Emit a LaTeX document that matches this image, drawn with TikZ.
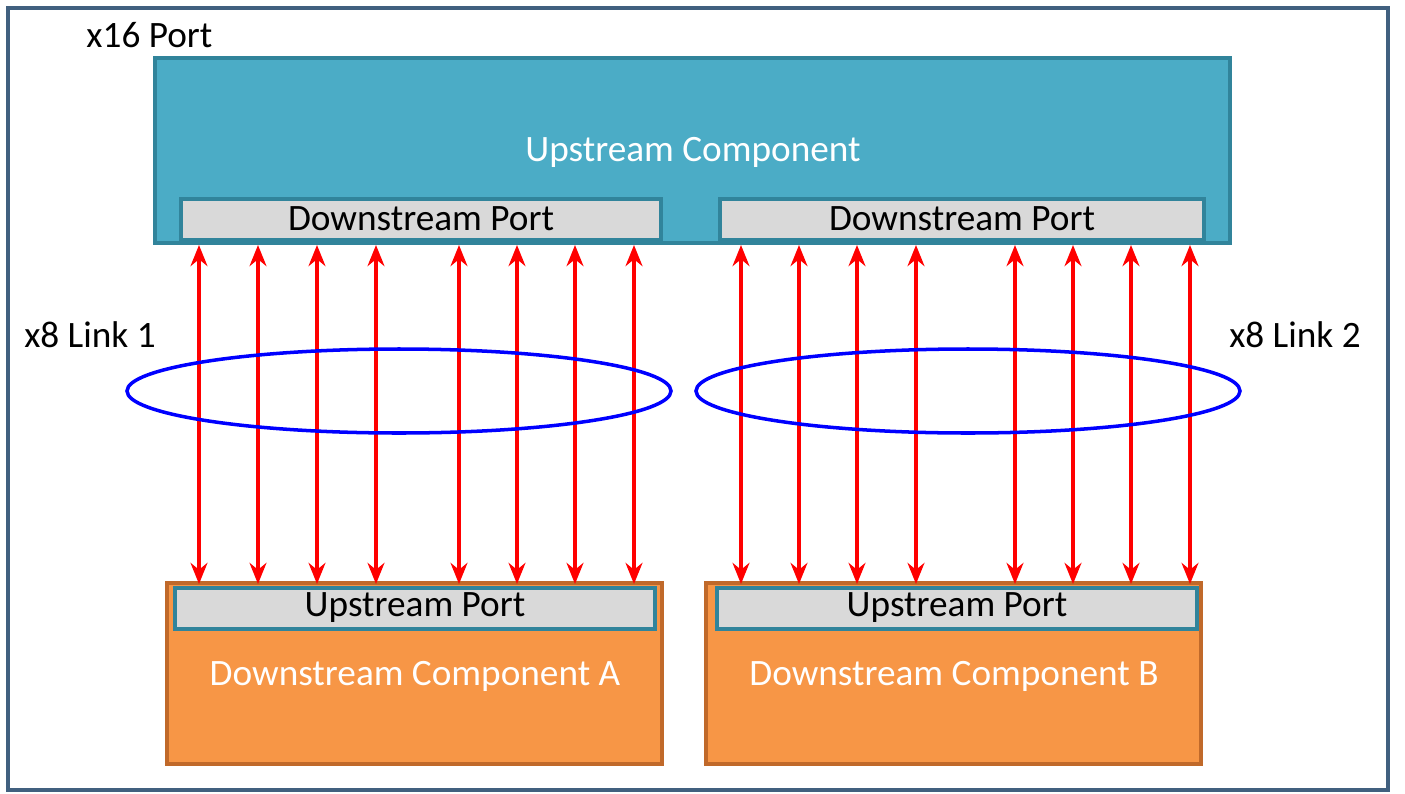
\documentclass[tikz,border=0pt]{standalone}
\usepackage{fontspec}
\setmainfont{Carlito}
\usetikzlibrary{arrows.meta}
\definecolor{frame}{HTML}{41607F}
\definecolor{upc}{HTML}{4BACC6}
\definecolor{upb}{HTML}{31849B}
\definecolor{portf}{HTML}{D9D9D9}
\definecolor{dnc}{HTML}{F79646}
\definecolor{dnb}{HTML}{C0692A}
\begin{document}
\begin{tikzpicture}[x=0.05cm,y=-0.05cm,
  txt/.style={font=\fontsize{53}{60}\selectfont},
  box/.style={draw, line width=4.5pt, inner sep=0pt},
  lane/.style={draw=red, line width=5.5pt, {Stealth[length=30pt,width=24pt]}-{Stealth[length=30pt,width=24pt]}},
  ring/.style={draw=blue, line width=5pt}]
\useasboundingbox (0,0) rectangle (1405,793);
\draw[frame, line width=4.5pt] (8,8) rectangle (1388,790);
\node[txt, anchor=west] (x16) at (84,35) {x16 Port};
\path[box, draw=upb, fill=upc] (155,58) rectangle (1230,243);
\node[txt, text=white] (uc) at (693,152) {Upstream Component};
\path[box, draw=upb, fill=portf] (181,199) rectangle (661,240);
\node[txt] (dpA) at (421,219) {Downstream Port};
\path[box, draw=upb, fill=portf] (720,199) rectangle (1204,240);
\node[txt] (dpB) at (962,219) {Downstream Port};
\path[box, draw=dnb, fill=dnc] (167,583) rectangle (662,764);
\path[box, draw=dnb, fill=dnc] (706,583) rectangle (1201,764);
\path[box, draw=upb, fill=portf] (175,588) rectangle (655,629);
\path[box, draw=upb, fill=portf] (717,588) rectangle (1197,629);
\node[txt] (upA) at (415,608) {Upstream Port};
\node[txt] (upB) at (957,608) {Upstream Port};
\node[txt, text=white] (dcA) at (415,676) {Downstream Component A};
\node[txt, text=white] (dcB) at (954,676) {Downstream Component B};
\foreach \x [count=\i] in {199,258,317,376,459,517,575,634,741,799,857,916,1015,1073,1131,1190}{
  \coordinate (t\i) at (\x,245);
  \coordinate (b\i) at (\x,584);
  \draw[lane] (t\i) -- (b\i);
}
\draw[ring] (399,391) ellipse [x radius=272, y radius=42];
\draw[ring] (968,391) ellipse [x radius=272, y radius=42];
\node[txt] (l1) at (90,335) {x8 Link 1};
\node[txt] (l2) at (1295,335) {x8 Link 2};
\end{tikzpicture}
\end{document}
